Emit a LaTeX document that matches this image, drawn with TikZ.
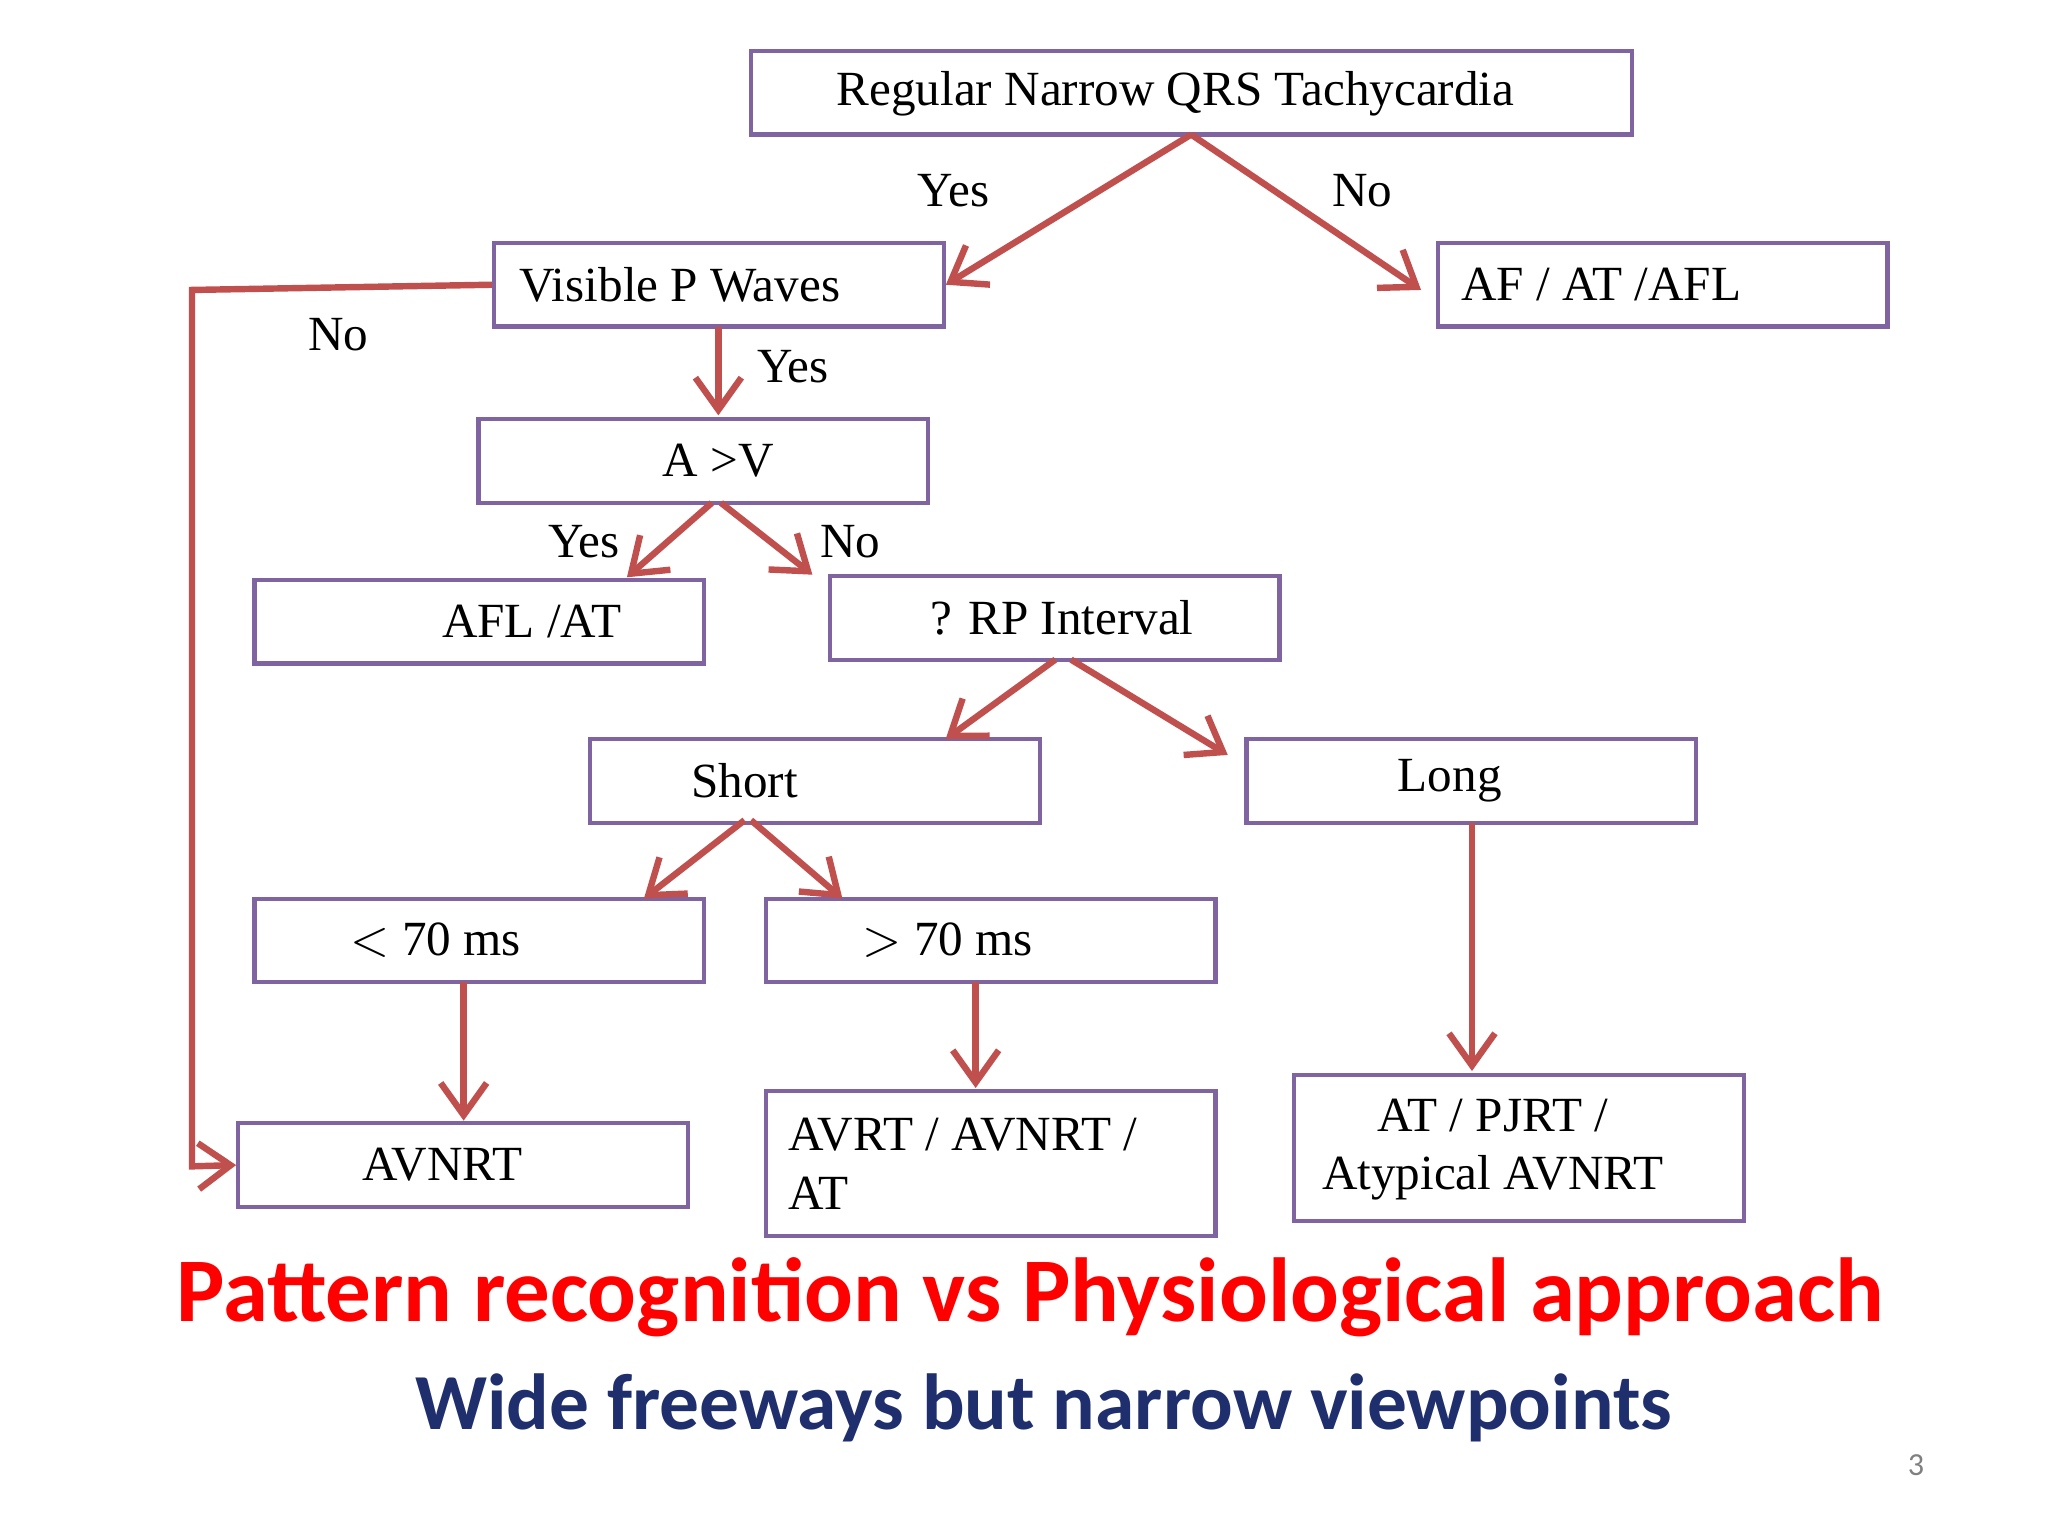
\documentclass[tikz,border=0pt]{standalone}
\usepackage{fontspec}
\setmainfont{Liberation Serif}
\newfontfamily\titlefont{Carlito}
\usetikzlibrary{arrows.meta}
\definecolor{boxpurple}{HTML}{8064A2}
\definecolor{arrred}{HTML}{C0504D}
\definecolor{navy}{HTML}{1F2F6E}
\begin{document}
\begin{tikzpicture}[x=0.01cm,y=-0.01cm,
  box/.style={draw=boxpurple,line width=0.9pt,minimum width=3.44cm,minimum height=0.64cm,inner sep=0pt},
  txt/.style={font=\fontsize{10.7}{12.7}\selectfont,inner sep=0pt},
  arr/.style={draw=arrred,line width=1.4pt,-{Straight Barb[length=7pt,width=10pt,line width=1.4pt]}}
  ]
\useasboundingbox (0,0) rectangle (1568,1176);
% boxes
\node[box,minimum width=6.74cm] (top) at (912,71) {};
\node[txt] at (900,72) {Regular Narrow QRS Tachycardia};
\node[box] (vp) at (550.5,218) {};
\node[txt,anchor=west] at (397,218) {Visible P Waves};
\node[box] (af) at (1273,218) {};
\node[txt,anchor=west] at (1118,218) {AF / AT /AFL};
\node[box] (av) at (538.5,353) {};
\node[txt] at (550,353) {A >V};
\node[box] (aflat) at (367,476) {};
\node[txt] at (407,476) {AFL /AT};
\node[box] (rp) at (807.5,473) {};
\node[txt] at (813,473) {? RP Interval};
\node[box] (short) at (624,598) {};
\node[txt] at (570,598) {Short};
\node[box] (long) at (1126.5,598) {};
\node[txt] at (1110,598) {Long};
\node[box] (lt) at (367,720) {};
\node[txt,anchor=west] at (268,720) {$<$ 70 ms};
\node[box] (gt) at (758.5,720) {};
\node[txt,anchor=west] at (660,720) {$>$ 70 ms};
\node[box] (avnrt) at (354.5,892) {};
\node[txt] at (339,892) {AVNRT};
\node[box,minimum height=1.11cm] (avrt) at (758.5,890.5) {};
\node[txt,anchor=west,align=left] at (603,891) {AVRT / AVNRT /\\AT};
\node[box,minimum height=1.12cm] (atyp) at (1163,879) {};
\node[txt,align=center] at (1143,880) {AT / PJRT /\\Atypical AVNRT};
% connector end points
\coordinate (tA) at (912,103);
\coordinate (afIn) at (1088,222);
\coordinate (p1) at (147,222);
\coordinate (p2) at (147,893);
\coordinate (vpOut) at (550,250);
\coordinate (avIn) at (550,318);
\coordinate (avOut1) at (545,385);
\coordinate (avOut2) at (552,385);
\coordinate (aflIn) at (480,442);
\coordinate (rpIn) at (622,440);
\coordinate (rpOut1) at (808,505);
\coordinate (rpOut2) at (820,505);
\coordinate (shIn) at (724,566);
\coordinate (lgIn) at (940,578);
\coordinate (shOut1) at (570,628);
\coordinate (shOut2) at (575,628);
\coordinate (ltIn) at (493,688);
\coordinate (gtIn) at (645,688);
\coordinate (ltOut) at (355,752);
\coordinate (avnIn) at (355,858);
\coordinate (gtOut) at (747,752);
\coordinate (avrtIn) at (747,833);
\coordinate (lgOut) at (1127,630);
\coordinate (atIn) at (1127,820);
% connectors
\draw[arr] (tA) -- (vp.east);
\draw[arr] (tA) -- (afIn);
\draw[arr] (vp.west) -- (p1) -- (p2) -- (avnrt.west);
\draw[arr] (vpOut) -- (avIn);
\draw[arr] (avOut1) -- (aflIn);
\draw[arr] (avOut2) -- (rpIn);
\draw[arr] (rpOut1) -- (shIn);
\draw[arr] (rpOut2) -- (lgIn);
\draw[arr] (shOut1) -- (ltIn);
\draw[arr] (shOut2) -- (gtIn);
\draw[arr] (ltOut) -- (avnIn);
\draw[arr] (gtOut) -- (avrtIn);
\draw[arr] (lgOut) -- (atIn);
% labels
\node[txt] at (730,146) {Yes};
\node[txt] at (1043,146) {No};
\node[txt] at (259,256) {No};
\node[txt] at (607,281) {Yes};
\node[txt] at (447,415) {Yes};
\node[txt] at (651,415) {No};
\node[font=\titlefont\bfseries\fontsize{19.8}{21}\selectfont,text=red,inner sep=0pt] at (789,993) {Pattern recognition vs Physiological approach};
\node[font=\titlefont\bfseries\fontsize{17.3}{19}\selectfont,text=navy,inner sep=0pt] at (799,1078) {Wide freeways but narrow viewpoints};
\node[font=\titlefont\fontsize{7}{8}\selectfont,text=gray,inner sep=0pt] at (1467,1122) {3};
\end{tikzpicture}
\end{document}
